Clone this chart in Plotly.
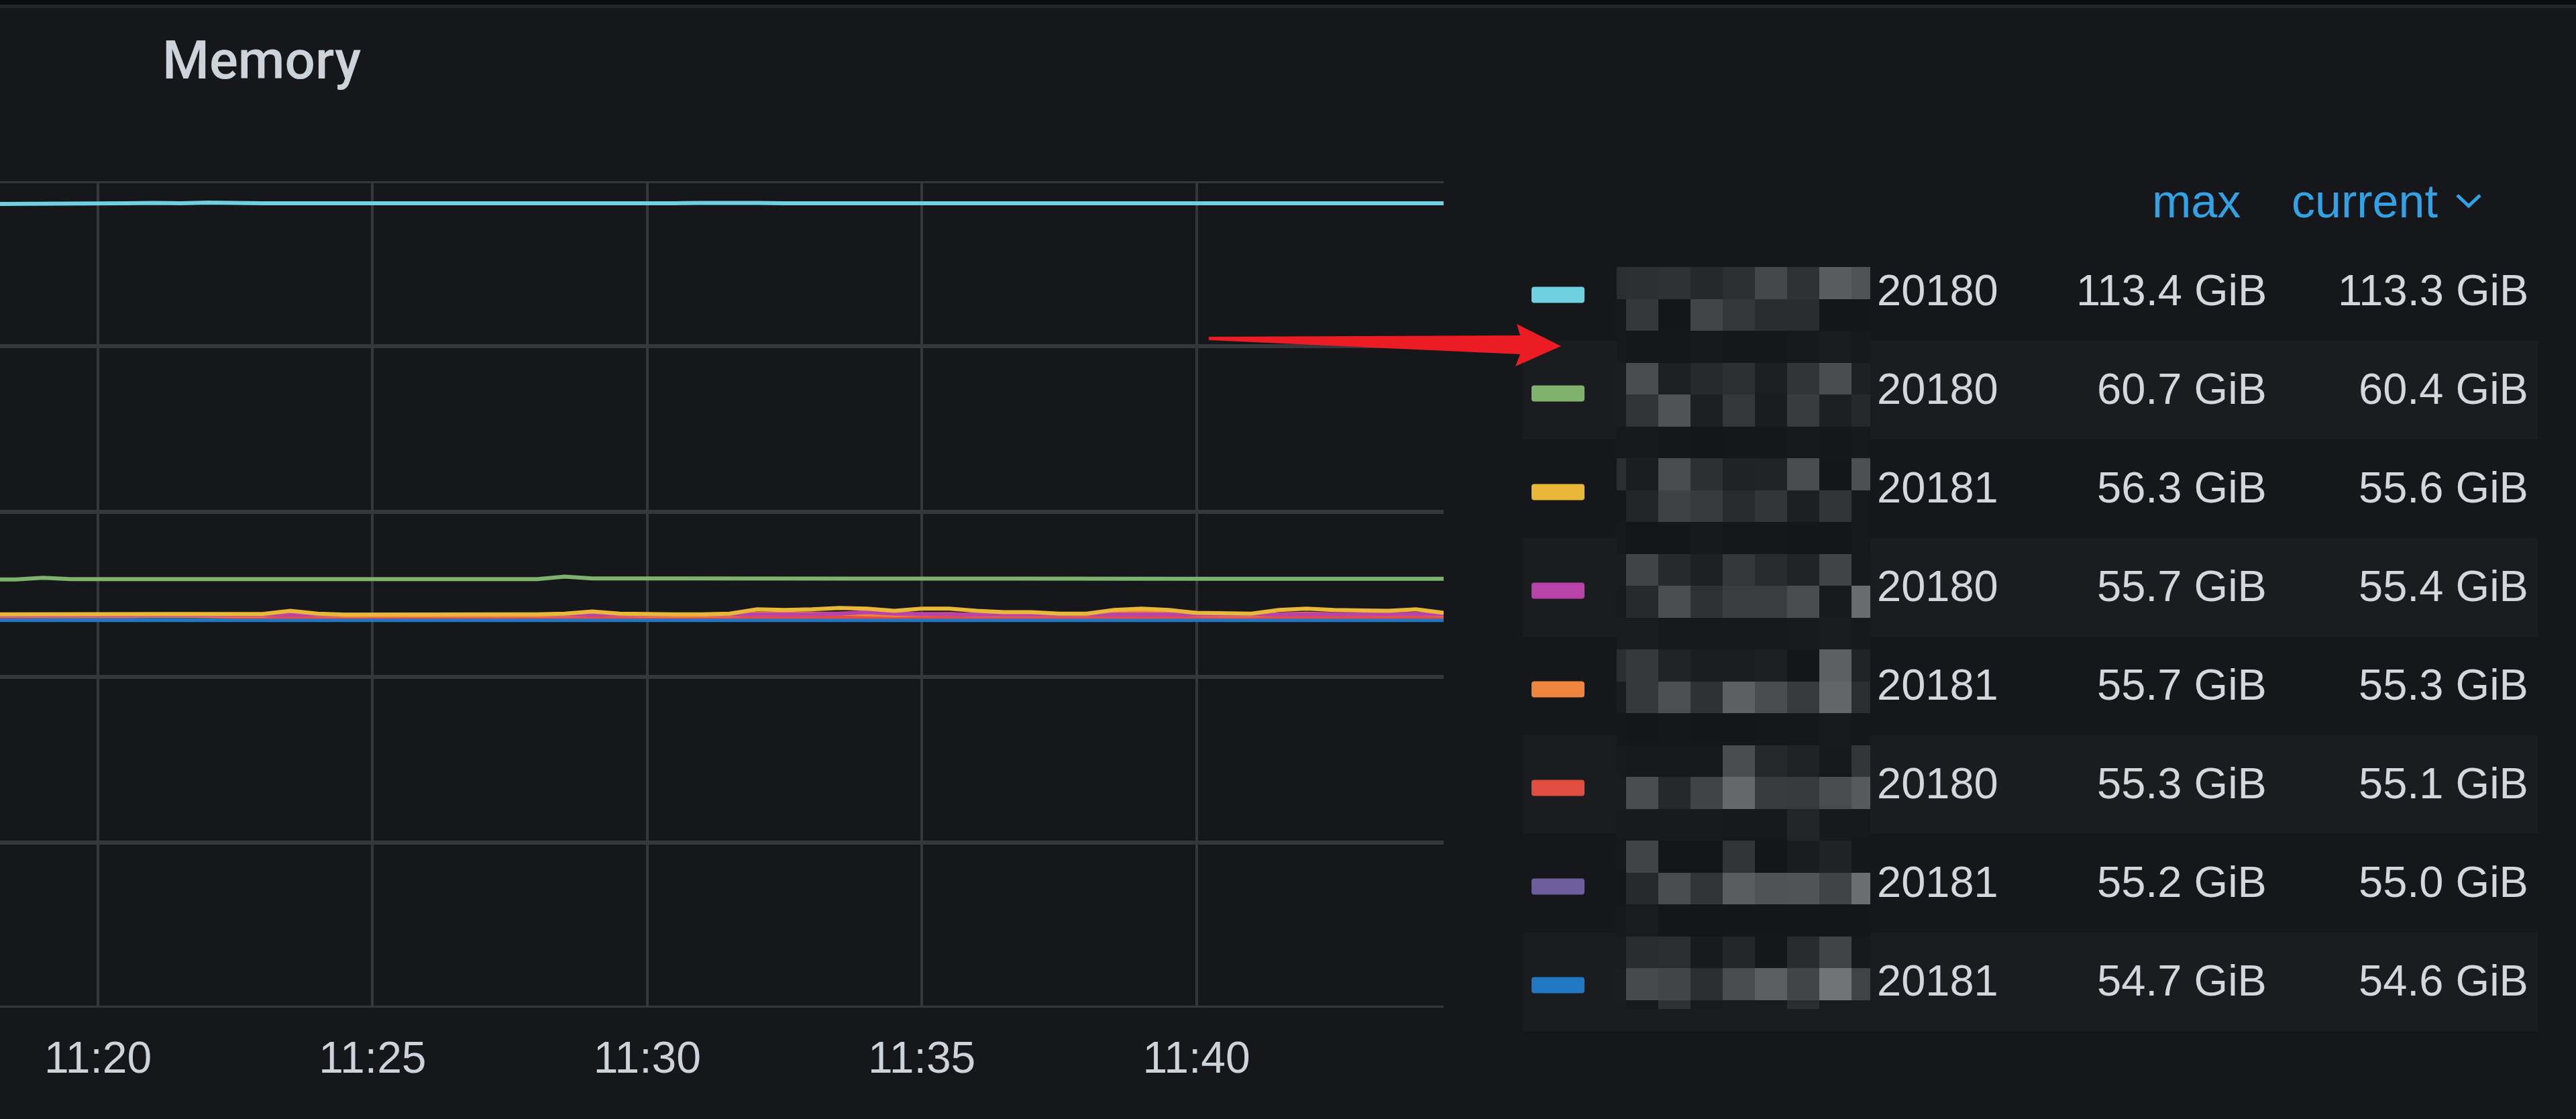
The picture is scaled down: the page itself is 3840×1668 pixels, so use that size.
import pandas as pd
import plotly.graph_objects as go

# ---------------- data ----------------
TIMES = pd.date_range("2023-06-01 11:18:00", periods=54, freq="30s")

CYAN = [113.2, 113.2, 113.2, 113.25, 113.3, 113.3, 113.35, 113.3, 113.4, 113.3,
        113.3, 113.3, 113.3, 113.3, 113.3, 113.3, 113.3, 113.2, 113.2, 113.2,
        113.2, 113.2, 113.2, 113.2, 113.3, 113.3, 113.35, 113.4, 113.35, 113.3,
        113.3, 113.3, 113.3, 113.3, 113.3, 113.3, 113.3, 113.35, 113.35, 113.35,
        113.35, 113.35, 113.35, 113.35, 113.3, 113.25, 113.3, 113.25, 113.3, 113.35,
        113.3, 113.3, 113.3, 113.3]
GREEN = [60.3, 60.3, 60.55, 60.35, 60.35, 60.35, 60.4, 60.4, 60.4, 60.4,
         60.3, 60.3, 60.3, 60.3, 60.3, 60.3, 60.3, 60.3, 60.3, 60.3,
         60.35, 60.7, 60.45, 60.45, 60.45, 60.45, 60.4, 60.35, 60.35, 60.35,
         60.35, 60.35, 60.35, 60.35, 60.4, 60.4, 60.4, 60.38, 60.38, 60.4,
         60.4, 60.4, 60.4, 60.4, 60.38, 60.4, 60.4, 60.4, 60.42, 60.42,
         60.42, 60.42, 60.42, 60.4]
YELLOW = [55.4, 55.4, 55.5, 55.4, 55.4, 55.4, 55.4, 55.4, 55.4, 55.4,
          55.45, 55.9, 55.5, 55.35, 55.35, 55.35, 55.35, 55.35, 55.35, 55.35,
          55.4, 55.5, 55.8, 55.5, 55.4, 55.4, 55.4, 55.5, 56.1, 56.0,
          56.1, 56.3, 56.2, 55.9, 56.2, 56.2, 55.9, 55.7, 55.7, 55.5,
          55.5, 56.0, 56.2, 56.0, 55.6, 55.5, 55.5, 56.0, 56.2, 56.0,
          55.9, 55.9, 56.1, 55.6]
MAGENTA = [55.3, 55.3, 55.3, 55.3, 55.3, 55.3, 55.3, 55.3, 55.3, 55.3,
           55.3, 55.35, 55.3, 55.3, 55.3, 55.3, 55.3, 55.3, 55.3, 55.3,
           55.3, 55.3, 55.35, 55.3, 55.3, 55.3, 55.3, 55.3, 55.4, 55.4,
           55.4, 55.5, 55.7, 55.5, 55.4, 55.4, 55.35, 55.35, 55.3, 55.3,
           55.3, 55.35, 55.4, 55.35, 55.3, 55.3, 55.3, 55.35, 55.4, 55.4,
           55.4, 55.4, 55.45, 55.4]
ORANGE = [55.2, 55.2, 55.25, 55.2, 55.2, 55.2, 55.2, 55.2, 55.2, 55.2,
          55.2, 55.5, 55.25, 55.2, 55.2, 55.2, 55.2, 55.2, 55.2, 55.2,
          55.2, 55.25, 55.4, 55.25, 55.2, 55.2, 55.2, 55.25, 55.5, 55.45,
          55.5, 55.5, 55.4, 55.3, 55.4, 55.45, 55.3, 55.3, 55.25, 55.25,
          55.3, 55.5, 55.7, 55.5, 55.3, 55.25, 55.25, 55.4, 55.5, 55.4,
          55.35, 55.35, 55.45, 55.3]
RED = [55.15, 55.2, 55.3, 55.3, 55.25, 55.3, 55.25, 55.2, 55.1, 55.1,
       55.1, 55.1, 55.1, 55.1, 55.1, 55.1, 55.1, 55.1, 55.1, 55.1,
       55.1, 55.1, 55.1, 55.1, 55.1, 55.1, 55.1, 55.1, 55.15, 55.15,
       55.15, 55.2, 55.2, 55.15, 55.15, 55.15, 55.1, 55.1, 55.1, 55.1,
       55.1, 55.1, 55.15, 55.1, 55.1, 55.1, 55.1, 55.1, 55.15, 55.15,
       55.15, 55.1, 55.1, 55.1]
PURPLE = [55.0, 55.0, 55.0, 55.0, 55.0, 55.05, 55.2, 55.2, 55.15, 55.0,
          55.0, 55.0, 55.0, 55.0, 55.0, 55.0, 55.0, 55.0, 55.0, 55.0,
          55.0, 55.0, 55.0, 55.0, 55.0, 55.0, 55.0, 55.0, 55.0, 55.05,
          55.05, 55.05, 55.1, 55.05, 55.0, 55.0, 55.0, 55.0, 55.0, 55.0,
          55.0, 55.0, 55.0, 55.0, 55.0, 55.0, 55.0, 55.0, 55.0, 55.0,
          55.0, 55.0, 55.0, 55.0]
BLUE = [54.6, 54.6, 54.65, 54.6, 54.6, 54.6, 54.6, 54.6, 54.6, 54.6,
        54.6, 54.6, 54.6, 54.6, 54.6, 54.6, 54.6, 54.6, 54.6, 54.6,
        54.6, 54.6, 54.6, 54.6, 54.6, 54.65, 54.7, 54.65, 54.6, 54.6,
        54.6, 54.6, 54.6, 54.6, 54.6, 54.6, 54.6, 54.6, 54.6, 54.6,
        54.6, 54.6, 54.6, 54.6, 54.6, 54.6, 54.6, 54.6, 54.6, 54.6,
        54.6, 54.6, 54.6, 54.6]

# legend table (sorted by current, as in the panel)
SERIES = [CYAN, GREEN, YELLOW, MAGENTA, ORANGE, RED, PURPLE, BLUE]
COLORS = ["#6ED0E0", "#7EB26D", "#EAB839", "#BA43A9", "#EF843C", "#E24D42", "#705DA0", "#1F78C1"]
NAME_SUFFIX = ["20180", "20180", "20181", "20180", "20181", "20180", "20181", "20181"]
LEGEND_MAX = [113.4, 60.7, 56.3, 55.7, 55.7, 55.3, 55.2, 54.7]
LEGEND_CURRENT = [113.3, 60.4, 55.6, 55.4, 55.3, 55.1, 55.0, 54.6]
X_TICK_TIMES = ["2023-06-01 11:20", "2023-06-01 11:25", "2023-06-01 11:30",
                "2023-06-01 11:35", "2023-06-01 11:40"]
TITLE = "Memory"

# blurred (mosaic) legend names - grey levels per block
MOSAIC = [
    [0x2c, 0x2e, 0x30, 0x27, 0x2e, 0x46, 0x30, 0x5a, 0x50],
    [0x17, 0x36, 0x15, 0x43, 0x35, 0x2b, 0x2b, 0x15, 0x15],
    [0x18, 0x16, 0x16, 0x17, 0x16, 0x16, 0x17, 0x1a, 0x18],
    [0x1c, 0x4a, 0x1f, 0x28, 0x2e, 0x1e, 0x33, 0x4b, 0x1f],
    [0x1c, 0x32, 0x50, 0x1e, 0x35, 0x1b, 0x3a, 0x1e, 0x27],
    [0x17, 0x18, 0x16, 0x14, 0x16, 0x16, 0x17, 0x16, 0x17],
    [0x2c, 0x1c, 0x4a, 0x2e, 0x21, 0x22, 0x4a, 0x15, 0x4e],
    [0x16, 0x23, 0x40, 0x39, 0x2a, 0x34, 0x1d, 0x33, 0x17],
    [0x18, 0x14, 0x15, 0x18, 0x16, 0x16, 0x15, 0x14, 0x17],
    [0x1b, 0x42, 0x28, 0x1f, 0x35, 0x29, 0x22, 0x42, 0x18],
    [0x19, 0x28, 0x4c, 0x2f, 0x3b, 0x3b, 0x4b, 0x19, 0x6a],
    [0x1a, 0x1a, 0x17, 0x17, 0x18, 0x18, 0x19, 0x1a, 0x18],
    [0x2c, 0x37, 0x22, 0x1c, 0x1c, 0x1d, 0x15, 0x5e, 0x22],
    [0x1b, 0x37, 0x4d, 0x30, 0x5e, 0x4b, 0x39, 0x64, 0x2c],
    [0x16, 0x15, 0x16, 0x15, 0x15, 0x16, 0x16, 0x19, 0x16],
    [0x19, 0x17, 0x17, 0x18, 0x4b, 0x26, 0x20, 0x17, 0x34],
    [0x1b, 0x4b, 0x26, 0x42, 0x66, 0x3a, 0x38, 0x4a, 0x58],
    [0x19, 0x19, 0x19, 0x19, 0x17, 0x17, 0x24, 0x18, 0x17],
    [0x17, 0x42, 0x14, 0x14, 0x32, 0x14, 0x1b, 0x21, 0x16],
    [0x15, 0x28, 0x4a, 0x33, 0x5b, 0x50, 0x52, 0x42, 0x6c],
    [0x17, 0x1a, 0x15, 0x15, 0x15, 0x15, 0x15, 0x14, 0x15],
    [0x1a, 0x2b, 0x2c, 0x19, 0x25, 0x16, 0x29, 0x41, 0x18],
    [0x1c, 0x48, 0x43, 0x2c, 0x4a, 0x5c, 0x43, 0x72, 0x41],
    [0x1b, 0x17, 0x2f, 0x19, 0x1a, 0x1a, 0x2c, 0x1a, 0x1b],
]

# ---------------- layout constants (pixels) ----------------
W, H = 3840, 1668
BG = "#16171b"
ROW_BG = "#1b1c20"
GRID = "#36373b"
TEXT = "#d4d8de"
LINK = "#33a2e5"
FONT = "Liberation Sans"

PLOT_L, PLOT_R, PLOT_T, PLOT_B = 0, 2152, 270, 1502
GIB_PER_25GB = 25e9 / 2 ** 30
YMAX = 5 * GIB_PER_25GB

ROW_Y0 = 432.5      # text centre of first legend row
ROW_H = 147.0
SW_X0, SW_X1 = 2283, 2362
NAME_X = 2796
MAX_RIGHT = 3381
CUR_RIGHT = 3771

fig = go.Figure()

# draw lower series first
for vals, col in reversed(list(zip(SERIES, COLORS))):
    fig.add_trace(go.Scatter(x=TIMES, y=vals, mode="lines",
                             line=dict(color=col, width=6), showlegend=False,
                             hoverinfo="skip", xaxis="x", yaxis="y"))

# mosaic over the hidden names
mx_edges = [2410, 2424, 2472, 2520, 2568, 2616, 2664, 2712, 2760, 2788]
my_edges = [398 + 47.5 * k for k in range(len(MOSAIC))] + [1504]
fig.add_trace(go.Heatmap(z=MOSAIC, x=mx_edges, y=my_edges, xaxis="x2", yaxis="y2",
                         zmin=20, zmax=114, showscale=False, hoverinfo="skip",
                         colorscale=[[0, "rgb(20,21,25)"], [1, "rgb(114,115,119)"]]))

shapes = []
annotations = []

# grid lines at the two ends of the value axis
for yv in (0, YMAX):
    shapes.append(dict(type="line", xref="x domain", yref="y", x0=0, x1=1, y0=yv, y1=yv,
                       line=dict(color=GRID, width=6), layer="below"))

# top strip of the page
shapes.append(dict(type="rect", xref="x2", yref="y2", x0=0, x1=W, y0=0, y1=7,
                   fillcolor="#0b0c0e", line_width=0, layer="below"))
shapes.append(dict(type="rect", xref="x2", yref="y2", x0=0, x1=W, y0=7, y1=12,
                   fillcolor="#26272b", line_width=0, layer="below"))

def rrect(x0, y0, x1, y1, r):
    return (f"M {x0+r} {y0} L {x1-r} {y0} Q {x1} {y0} {x1} {y0+r} L {x1} {y1-r} "
            f"Q {x1} {y1} {x1-r} {y1} L {x0+r} {y1} Q {x0} {y1} {x0} {y1-r} "
            f"L {x0} {y0+r} Q {x0} {y0} {x0+r} {y0} Z")

for i, (col, suf, mx, cur) in enumerate(zip(COLORS, NAME_SUFFIX, LEGEND_MAX, LEGEND_CURRENT)):
    cy = ROW_Y0 + ROW_H * i
    if i % 2 == 1:
        shapes.append(dict(type="rect", xref="x2", yref="y2", x0=2270, x1=3783,
                           y0=cy - ROW_H / 2 + 2, y1=cy + ROW_H / 2 + 2,
                           fillcolor=ROW_BG, line_width=0, layer="below"))
    shapes.append(dict(type="path", xref="x2", yref="y2",
                       path=rrect(SW_X0, cy - 5, SW_X1, cy + 19, 4),
                       fillcolor=col, line_width=0))
    annotations.append(dict(xref="x2", yref="y2", x=NAME_X, y=cy, text=suf,
                            xanchor="left", yanchor="middle", showarrow=False,
                            font=dict(family=FONT, size=65, color=TEXT)))
    annotations.append(dict(xref="x2", yref="y2", x=MAX_RIGHT, y=cy, text=f"{mx:.1f} GiB",
                            xanchor="right", yanchor="middle", showarrow=False,
                            font=dict(family=FONT, size=65, color=TEXT)))
    annotations.append(dict(xref="x2", yref="y2", x=CUR_RIGHT, y=cy, text=f"{cur:.1f} GiB",
                            xanchor="right", yanchor="middle", showarrow=False,
                            font=dict(family=FONT, size=65, color=TEXT)))

# headers
annotations.append(dict(xref="x2", yref="y2", x=3342, y=300, text="max",
                        xanchor="right", yanchor="middle", showarrow=False,
                        font=dict(family=FONT, size=70, color=LINK)))
annotations.append(dict(xref="x2", yref="y2", x=3636, y=300, text="current",
                        xanchor="right", yanchor="middle", showarrow=False,
                        font=dict(family=FONT, size=70, color=LINK)))
shapes.append(dict(type="path", xref="x2", yref="y2",
                   path="M 3663 291 L 3680 307 L 3697 291",
                   line=dict(color=LINK, width=5)))

# title
annotations.append(dict(xref="x2", yref="y2", x=240, y=90, text=TITLE,
                        xanchor="left", yanchor="middle", showarrow=False,
                        font=dict(family="Roboto", size=80, color="#ccd3db", weight=500)))

# red annotation arrow
shapes.append(dict(type="path", xref="x2", yref="y2",
                   path="M 1802 502 L 2266 500 L 2261 483 L 2327 516 L 2259 546 L 2266 528 L 1802 507 Z",
                   fillcolor="#EC1C24", line_width=0))

fig.update_layout(
    width=W, height=H, margin=dict(l=0, r=0, t=0, b=0),
    paper_bgcolor=BG, plot_bgcolor="rgba(0,0,0,0)", hovermode=False,
    shapes=shapes, annotations=annotations,
    xaxis=dict(domain=[PLOT_L / W, PLOT_R / W],
               range=["2023-06-01 11:18:13", "2023-06-01 11:44:30"],
               tickvals=X_TICK_TIMES, tickformat="%H:%M",
               showgrid=True, gridcolor=GRID, gridwidth=4,
               showline=False, ticks="", ticklabelstandoff=30,
               tickfont=dict(family=FONT, size=66, color="#ccd3db"),
               zeroline=False, anchor="y"),
    yaxis=dict(domain=[1 - PLOT_B / H, 1 - PLOT_T / H],
               range=[0, YMAX], dtick=GIB_PER_25GB, tick0=0,
               showgrid=True, gridcolor=GRID, gridwidth=6,
               showticklabels=False, zeroline=False, showline=False, anchor="x"),
    xaxis2=dict(domain=[0, 1], range=[0, W], visible=False, anchor="y2"),
    yaxis2=dict(domain=[0, 1], range=[H, 0], visible=False, anchor="x2"),
)

fig.write_html("out.html", config={"displayModeBar": False},
               post_script="document.body.style.margin='0px';")
